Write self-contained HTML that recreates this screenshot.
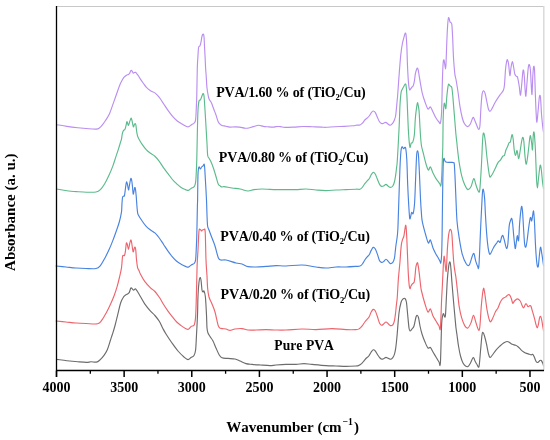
<!DOCTYPE html>
<html><head><meta charset="utf-8"><style>
html,body{margin:0;padding:0;background:#fff;}
svg{display:block;}
text{font-family:'Liberation Serif', 'Times New Roman', serif;font-weight:bold;fill:#000;font-kerning:none;}
</style></head><body>
<svg width="550" height="440" viewBox="0 0 550 440">
<rect width="550" height="440" fill="#fff"/>
<g fill="none" stroke-width="1.15" stroke-linejoin="round" stroke-linecap="round">
<path d="M56.50 124.60 C56.60 124.62 56.50 124.40 57.10 124.70 C58.83 125.00 63.45 125.88 66.90 126.40 C70.35 126.92 74.17 127.40 77.80 127.80 C81.43 128.20 85.60 128.58 88.70 128.80 C91.80 129.02 94.68 129.20 96.40 129.10 C98.12 129.00 98.10 128.78 99.00 128.20 C99.90 127.62 100.72 126.88 101.80 125.60 C102.88 124.32 104.22 122.48 105.50 120.50 C106.78 118.52 108.25 116.43 109.50 113.70 C110.75 110.97 111.85 107.30 113.00 104.10 C114.15 100.90 115.27 97.68 116.40 94.50 C117.53 91.32 118.85 87.37 119.80 85.00 C120.75 82.63 121.38 81.60 122.10 80.30 C122.82 79.00 123.38 78.05 124.10 77.20 C124.82 76.35 125.68 75.67 126.40 75.20 C127.12 74.73 127.85 74.73 128.40 74.40 C128.95 74.07 129.32 73.80 129.70 73.20 C130.08 72.60 130.43 71.27 130.70 70.80 C130.97 70.33 131.03 70.30 131.30 70.40 C131.57 70.50 131.97 70.93 132.30 71.40 C132.63 71.87 132.97 73.00 133.30 73.20 C133.63 73.40 133.92 72.73 134.30 72.60 C134.68 72.47 135.22 72.27 135.60 72.40 C135.98 72.53 136.13 72.85 136.60 73.40 C137.07 73.95 137.77 74.75 138.40 75.70 C139.03 76.65 139.55 77.80 140.40 79.10 C141.25 80.40 142.53 82.17 143.50 83.50 C144.47 84.83 145.03 85.90 146.20 87.10 C147.37 88.30 149.05 89.73 150.50 90.70 C151.95 91.67 153.43 91.80 154.90 92.90 C156.37 94.00 157.85 95.48 159.30 97.30 C160.75 99.12 162.15 101.62 163.60 103.80 C165.05 105.98 166.53 108.33 168.00 110.40 C169.47 112.47 170.95 114.52 172.40 116.20 C173.85 117.88 175.25 119.28 176.70 120.50 C178.15 121.72 179.63 122.58 181.10 123.50 C182.57 124.42 184.28 125.45 185.50 126.00 C186.72 126.55 187.43 126.98 188.40 126.80 C189.37 126.62 190.33 125.53 191.30 124.90 C192.27 124.27 193.48 123.85 194.20 123.00 C194.92 122.15 195.25 122.30 195.60 119.80 C195.95 117.30 196.10 112.12 196.30 108.00 C196.50 103.88 196.63 101.77 196.80 95.10 C196.97 88.43 197.10 74.63 197.30 68.00 C197.50 61.37 197.78 58.72 198.00 55.30 C198.22 51.88 198.27 49.10 198.60 47.50 C198.93 45.90 199.58 46.68 200.00 45.70 C200.42 44.72 200.80 43.03 201.10 41.60 C201.40 40.17 201.53 38.30 201.80 37.10 C202.07 35.90 202.40 34.85 202.70 34.40 C203.00 33.95 203.37 33.80 203.60 34.40 C203.83 35.00 203.95 36.03 204.10 38.00 C204.25 39.97 204.35 43.32 204.50 46.20 C204.65 49.08 204.82 51.67 205.00 55.30 C205.18 58.93 205.40 64.55 205.60 68.00 C205.80 71.45 205.97 72.67 206.20 76.00 C206.43 79.33 206.67 84.75 207.00 88.00 C207.33 91.25 207.83 93.63 208.20 95.50 C208.57 97.37 208.65 97.95 209.20 99.20 C209.75 100.45 210.75 101.37 211.50 103.00 C212.25 104.63 212.95 107.00 213.70 109.00 C214.45 111.00 215.25 112.88 216.00 115.00 C216.75 117.12 217.45 120.08 218.20 121.70 C218.95 123.32 219.87 124.07 220.50 124.70 C221.13 125.33 221.08 125.25 222.00 125.50 C222.92 125.75 224.73 125.93 226.00 126.20 C227.27 126.47 228.10 127.00 229.60 127.10 C231.10 127.20 233.33 126.80 235.00 126.80 C236.67 126.80 237.93 126.87 239.60 127.10 C241.27 127.33 243.48 128.05 245.00 128.20 C246.52 128.35 247.32 128.27 248.70 128.00 C250.08 127.73 251.63 127.05 253.30 126.60 C254.97 126.15 257.03 125.33 258.70 125.30 C260.37 125.27 261.78 126.15 263.30 126.40 C264.82 126.65 266.13 126.68 267.80 126.80 C269.47 126.92 271.93 127.13 273.30 127.10 C274.67 127.07 274.80 126.68 276.00 126.60 C277.20 126.52 279.00 126.47 280.50 126.60 C282.00 126.73 282.75 127.32 285.00 127.40 C287.25 127.48 291.00 127.25 294.00 127.10 C297.00 126.95 299.93 126.55 303.00 126.50 C306.07 126.45 309.32 126.70 312.40 126.80 C315.48 126.90 319.23 127.02 321.50 127.10 C323.77 127.18 323.75 127.37 326.00 127.30 C328.25 127.23 331.97 126.85 335.00 126.70 C338.03 126.55 341.15 126.55 344.20 126.40 C347.25 126.25 351.33 126.00 353.30 125.80 C355.27 125.60 354.88 125.33 356.00 125.20 C357.12 125.07 358.93 125.33 360.00 125.00 C361.07 124.67 361.60 124.03 362.40 123.20 C363.20 122.37 364.00 120.87 364.80 120.00 C365.60 119.13 366.47 118.67 367.20 118.00 C367.93 117.33 368.53 116.87 369.20 116.00 C369.87 115.13 370.53 113.63 371.20 112.80 C371.87 111.97 372.53 111.07 373.20 111.00 C373.87 110.93 374.53 111.43 375.20 112.40 C375.87 113.37 376.53 115.33 377.20 116.80 C377.87 118.27 378.47 120.07 379.20 121.20 C379.93 122.33 380.87 123.27 381.60 123.60 C382.33 123.93 382.90 123.40 383.60 123.20 C384.30 123.00 385.07 122.27 385.80 122.40 C386.53 122.53 387.23 123.53 388.00 124.00 C388.77 124.47 389.60 125.33 390.40 125.20 C391.20 125.07 392.13 124.07 392.80 123.20 C393.47 122.33 393.93 121.20 394.40 120.00 C394.87 118.80 395.27 117.87 395.60 116.00 C395.93 114.13 396.13 111.47 396.40 108.80 C396.67 106.13 397.00 102.13 397.20 100.00 C397.40 97.87 397.27 100.38 397.60 96.00 C397.93 91.62 398.67 80.60 399.20 73.70 C399.73 66.80 400.27 59.63 400.80 54.60 C401.33 49.57 401.87 46.42 402.40 43.50 C402.93 40.58 403.53 38.82 404.00 37.10 C404.47 35.38 404.87 33.60 405.20 33.20 C405.53 32.80 405.73 32.72 406.00 34.70 C406.27 36.68 406.55 39.92 406.80 45.10 C407.05 50.28 407.23 59.70 407.50 65.80 C407.77 71.90 408.07 77.73 408.40 81.70 C408.73 85.67 409.13 88.42 409.50 89.60 C409.87 90.78 410.20 89.20 410.60 88.80 C411.00 88.40 411.47 87.72 411.90 87.20 C412.33 86.68 412.80 86.62 413.20 85.70 C413.60 84.78 413.93 83.70 414.30 81.70 C414.67 79.70 415.00 75.82 415.40 73.70 C415.80 71.58 416.35 69.92 416.70 69.00 C417.05 68.08 417.23 67.95 417.50 68.20 C417.77 68.45 418.03 69.32 418.30 70.50 C418.57 71.68 418.70 72.90 419.10 75.30 C419.50 77.70 420.18 81.98 420.70 84.90 C421.22 87.82 421.48 89.95 422.20 92.80 C422.92 95.65 424.03 99.30 425.00 102.00 C425.97 104.70 427.10 108.17 428.00 109.00 C428.90 109.83 429.57 106.50 430.40 107.00 C431.23 107.50 432.07 110.17 433.00 112.00 C433.93 113.83 435.00 116.33 436.00 118.00 C437.00 119.67 438.27 121.17 439.00 122.00 C439.73 122.83 439.97 124.67 440.40 123.00 C440.83 121.33 441.27 119.17 441.60 112.00 C441.93 104.83 442.13 88.25 442.40 80.00 C442.67 71.75 442.93 65.83 443.20 62.50 C443.47 59.17 443.75 59.75 444.00 60.00 C444.25 60.25 444.45 62.50 444.70 64.00 C444.95 65.50 445.28 69.00 445.50 69.00 C445.72 69.00 445.78 68.50 446.00 64.00 C446.22 59.50 446.53 48.33 446.80 42.00 C447.07 35.67 447.33 30.00 447.60 26.00 C447.87 22.00 448.13 19.22 448.40 18.00 C448.67 16.78 448.93 18.03 449.20 18.70 C449.47 19.37 449.68 21.33 450.00 22.00 C450.32 22.67 450.78 22.20 451.10 22.70 C451.42 23.20 451.63 22.35 451.90 25.00 C452.17 27.65 452.43 33.15 452.70 38.60 C452.97 44.05 453.15 51.87 453.50 57.70 C453.85 63.53 454.40 70.05 454.80 73.60 C455.20 77.15 455.52 76.93 455.90 79.00 C456.28 81.07 456.70 83.50 457.10 86.00 C457.50 88.50 457.82 90.55 458.30 94.00 C458.78 97.45 459.33 102.70 460.00 106.70 C460.67 110.70 461.55 115.15 462.30 118.00 C463.05 120.85 463.65 122.37 464.50 123.80 C465.35 125.23 466.45 126.52 467.40 126.60 C468.35 126.68 469.27 125.82 470.20 124.30 C471.13 122.78 472.23 118.15 473.00 117.50 C473.77 116.85 474.13 118.98 474.80 120.40 C475.47 121.82 476.35 124.48 477.00 126.00 C477.65 127.52 478.22 129.50 478.70 129.50 C479.18 129.50 479.52 129.80 479.90 126.00 C480.28 122.20 480.63 112.00 481.00 106.70 C481.37 101.40 481.72 96.85 482.10 94.20 C482.48 91.55 482.82 90.98 483.30 90.80 C483.78 90.62 484.43 91.40 485.00 93.10 C485.57 94.80 486.13 98.35 486.70 101.00 C487.27 103.65 487.83 107.28 488.40 109.00 C488.97 110.72 489.43 111.48 490.10 111.30 C490.77 111.12 491.55 109.42 492.40 107.90 C493.25 106.38 493.93 104.38 495.20 102.20 C496.47 100.02 498.63 96.78 500.00 94.80 C501.37 92.82 502.65 92.02 503.40 90.30 C504.15 88.58 504.15 87.92 504.50 84.50 C504.85 81.08 505.15 73.62 505.50 69.80 C505.85 65.98 506.27 63.27 506.60 61.60 C506.93 59.93 507.17 59.37 507.50 59.80 C507.83 60.23 508.20 61.57 508.60 64.20 C509.00 66.83 509.50 75.05 509.90 75.60 C510.30 76.15 510.58 69.82 511.00 67.50 C511.42 65.18 511.95 61.70 512.40 61.70 C512.85 61.70 513.30 65.45 513.70 67.50 C514.10 69.55 514.33 72.50 514.80 74.00 C515.27 75.50 516.03 75.95 516.50 76.50 C516.97 77.05 517.15 75.72 517.60 77.30 C518.05 78.88 518.72 83.02 519.20 86.00 C519.68 88.98 520.08 95.45 520.50 95.20 C520.92 94.95 521.33 88.18 521.70 84.50 C522.07 80.82 522.40 75.50 522.70 73.10 C523.00 70.70 523.23 69.55 523.50 70.10 C523.77 70.65 524.03 73.17 524.30 76.40 C524.57 79.63 524.83 86.23 525.10 89.50 C525.37 92.77 525.57 97.37 525.90 96.00 C526.23 94.63 526.72 85.93 527.10 81.30 C527.48 76.67 527.85 71.00 528.20 68.20 C528.55 65.40 528.83 64.20 529.20 64.50 C529.57 64.80 530.07 66.67 530.40 70.00 C530.73 73.33 530.93 80.43 531.20 84.50 C531.47 88.57 531.73 95.75 532.00 94.40 C532.27 93.05 532.53 80.97 532.80 76.40 C533.07 71.83 533.32 68.15 533.60 67.00 C533.88 65.85 534.22 65.22 534.50 69.50 C534.78 73.78 535.03 85.55 535.30 92.70 C535.57 99.85 535.83 107.48 536.10 112.40 C536.37 117.32 536.57 122.48 536.90 122.20 C537.23 121.92 537.68 114.93 538.10 110.70 C538.52 106.47 539.00 98.98 539.40 96.80 C539.80 94.62 540.15 94.73 540.50 97.60 C540.85 100.47 541.15 109.35 541.50 114.00 C541.85 118.65 542.27 122.50 542.60 125.50 C542.93 128.50 543.35 130.92 543.50 132.00" stroke="#ba8ef0"/>
<path d="M56.50 189.00 C56.60 189.00 56.50 188.72 57.10 189.00 C58.83 189.28 63.45 190.25 66.90 190.70 C70.35 191.15 74.53 191.45 77.80 191.70 C81.07 191.95 83.47 192.15 86.50 192.20 C89.53 192.25 93.68 192.43 96.00 192.00 C98.32 191.57 98.95 190.97 100.40 189.60 C101.85 188.23 103.25 186.22 104.70 183.80 C106.15 181.38 107.77 178.00 109.10 175.10 C110.43 172.20 111.62 169.32 112.70 166.40 C113.78 163.48 114.63 160.52 115.60 157.60 C116.57 154.68 117.65 151.57 118.50 148.90 C119.35 146.23 120.20 143.25 120.70 141.60 C121.20 139.95 121.25 140.20 121.50 139.00 C121.75 137.80 121.92 135.73 122.20 134.40 C122.48 133.07 122.72 131.90 123.20 131.00 C123.68 130.10 124.62 129.98 125.10 129.00 C125.58 128.02 125.82 126.30 126.10 125.10 C126.38 123.90 126.58 122.23 126.80 121.80 C127.02 121.37 127.13 121.90 127.40 122.50 C127.67 123.10 128.02 125.52 128.40 125.40 C128.78 125.28 129.27 123.00 129.70 121.80 C130.13 120.60 130.62 118.42 131.00 118.20 C131.38 117.98 131.62 119.08 132.00 120.50 C132.38 121.92 132.92 125.98 133.30 126.70 C133.68 127.42 134.00 125.33 134.30 124.80 C134.60 124.27 134.83 123.45 135.10 123.50 C135.37 123.55 135.65 123.85 135.90 125.10 C136.15 126.35 136.32 129.15 136.60 131.00 C136.88 132.85 137.17 134.78 137.60 136.20 C138.03 137.62 138.50 138.23 139.20 139.50 C139.90 140.77 140.63 142.12 141.80 143.80 C142.97 145.48 144.75 148.02 146.20 149.60 C147.65 151.18 149.05 152.20 150.50 153.30 C151.95 154.40 153.43 154.87 154.90 156.20 C156.37 157.53 157.85 159.37 159.30 161.30 C160.75 163.23 162.15 165.75 163.60 167.80 C165.05 169.85 166.53 171.65 168.00 173.60 C169.47 175.55 170.95 177.80 172.40 179.50 C173.85 181.20 175.25 182.47 176.70 183.80 C178.15 185.13 179.63 186.53 181.10 187.50 C182.57 188.47 184.28 189.12 185.50 189.60 C186.72 190.08 187.43 190.63 188.40 190.40 C189.37 190.17 190.33 188.82 191.30 188.20 C192.27 187.58 193.48 187.67 194.20 186.70 C194.92 185.73 195.25 184.85 195.60 182.40 C195.95 179.95 196.10 175.88 196.30 172.00 C196.50 168.12 196.62 166.10 196.80 159.10 C196.98 152.10 197.20 138.18 197.40 130.00 C197.60 121.82 197.73 114.83 198.00 110.00 C198.27 105.17 198.60 102.67 199.00 101.00 C199.40 99.33 199.97 100.67 200.40 100.00 C200.83 99.33 201.17 98.07 201.60 97.00 C202.03 95.93 202.60 93.77 203.00 93.60 C203.40 93.43 203.67 93.27 204.00 96.00 C204.33 98.73 204.63 104.33 205.00 110.00 C205.37 115.67 205.87 124.42 206.20 130.00 C206.53 135.58 206.75 139.25 207.00 143.50 C207.25 147.75 207.33 153.00 207.70 155.50 C208.07 158.00 208.57 157.25 209.20 158.50 C209.83 159.75 210.75 161.25 211.50 163.00 C212.25 164.75 212.95 166.75 213.70 169.00 C214.45 171.25 215.25 174.00 216.00 176.50 C216.75 179.00 217.45 182.38 218.20 184.00 C218.95 185.62 219.87 185.70 220.50 186.20 C221.13 186.70 221.42 186.93 222.00 187.00 C222.58 187.07 222.33 186.43 224.00 186.60 C225.67 186.77 229.33 187.60 232.00 188.00 C234.67 188.40 237.33 188.50 240.00 189.00 C242.67 189.50 245.67 190.90 248.00 191.00 C250.33 191.10 251.67 189.93 254.00 189.60 C256.33 189.27 258.33 189.00 262.00 189.00 C265.67 189.00 272.00 189.50 276.00 189.60 C280.00 189.70 282.67 189.60 286.00 189.60 C289.33 189.60 292.67 189.70 296.00 189.60 C299.33 189.50 302.67 188.93 306.00 189.00 C309.33 189.07 312.67 189.73 316.00 190.00 C319.33 190.27 322.67 190.60 326.00 190.60 C329.33 190.60 332.67 190.17 336.00 190.00 C339.33 189.83 342.67 189.73 346.00 189.60 C349.33 189.47 353.67 189.27 356.00 189.20 C358.33 189.13 358.93 189.53 360.00 189.20 C361.07 188.87 361.60 188.13 362.40 187.20 C363.20 186.27 364.00 184.67 364.80 183.60 C365.60 182.53 366.47 181.60 367.20 180.80 C367.93 180.00 368.53 179.80 369.20 178.80 C369.87 177.80 370.53 175.87 371.20 174.80 C371.87 173.73 372.53 172.53 373.20 172.40 C373.87 172.27 374.53 172.93 375.20 174.00 C375.87 175.07 376.47 177.07 377.20 178.80 C377.93 180.53 378.87 183.13 379.60 184.40 C380.33 185.67 380.93 186.13 381.60 186.40 C382.27 186.67 382.87 186.33 383.60 186.00 C384.33 185.67 385.27 184.40 386.00 184.40 C386.73 184.40 387.27 185.50 388.00 186.00 C388.73 186.50 389.60 187.40 390.40 187.40 C391.20 187.40 392.13 186.90 392.80 186.00 C393.47 185.10 393.93 183.73 394.40 182.00 C394.87 180.27 395.27 177.73 395.60 175.60 C395.93 173.47 396.13 171.47 396.40 169.20 C396.67 166.93 396.90 166.03 397.20 162.00 C397.50 157.97 397.87 151.05 398.20 145.00 C398.53 138.95 398.90 132.37 399.20 125.70 C399.50 119.03 399.68 110.57 400.00 105.00 C400.32 99.43 400.70 94.95 401.10 92.30 C401.50 89.65 401.92 90.15 402.40 89.10 C402.88 88.05 403.53 86.85 404.00 86.00 C404.47 85.15 404.87 84.13 405.20 84.00 C405.53 83.87 405.73 83.55 406.00 85.20 C406.27 86.85 406.55 89.80 406.80 93.90 C407.05 98.00 407.23 103.70 407.50 109.80 C407.77 115.90 408.07 124.67 408.40 130.50 C408.73 136.33 409.18 142.02 409.50 144.80 C409.82 147.58 410.03 147.47 410.30 147.20 C410.57 146.93 410.70 144.00 411.10 143.20 C411.50 142.40 412.17 143.72 412.70 142.40 C413.23 141.08 413.85 139.40 414.30 135.30 C414.75 131.20 415.00 122.58 415.40 117.80 C415.80 113.02 416.35 109.12 416.70 106.60 C417.05 104.08 417.23 102.83 417.50 102.70 C417.77 102.57 418.03 104.35 418.30 105.80 C418.57 107.25 418.83 108.08 419.10 111.40 C419.37 114.72 419.63 121.18 419.90 125.70 C420.17 130.22 420.43 135.12 420.70 138.50 C420.97 141.88 421.12 143.75 421.50 146.00 C421.88 148.25 422.25 149.00 423.00 152.00 C423.75 155.00 425.10 161.00 426.00 164.00 C426.90 167.00 427.67 169.50 428.40 170.00 C429.13 170.50 429.63 166.50 430.40 167.00 C431.17 167.50 432.07 171.07 433.00 173.00 C433.93 174.93 435.10 177.13 436.00 178.60 C436.90 180.07 437.73 180.87 438.40 181.80 C439.07 182.73 439.60 183.53 440.00 184.20 C440.40 184.87 440.53 186.73 440.80 185.80 C441.07 184.87 441.33 183.23 441.60 178.60 C441.87 173.97 442.20 163.43 442.40 158.00 C442.60 152.57 442.67 152.78 442.80 146.00 C442.93 139.22 443.00 124.20 443.20 117.30 C443.40 110.40 443.75 106.85 444.00 104.60 C444.25 102.35 444.45 103.27 444.70 103.80 C444.95 104.33 445.28 107.13 445.50 107.80 C445.72 108.47 445.78 109.65 446.00 107.80 C446.22 105.95 446.48 100.15 446.80 96.70 C447.12 93.25 447.58 89.22 447.90 87.10 C448.22 84.98 448.35 84.20 448.70 84.00 C449.05 83.80 449.60 85.52 450.00 85.90 C450.40 86.28 450.78 85.95 451.10 86.30 C451.42 86.65 451.63 86.55 451.90 88.00 C452.17 89.45 452.43 92.23 452.70 95.00 C452.97 97.77 453.15 100.35 453.50 104.60 C453.85 108.85 454.40 115.60 454.80 120.50 C455.20 125.40 455.55 130.25 455.90 134.00 C456.25 137.75 456.62 140.33 456.90 143.00 C457.18 145.67 457.22 146.73 457.60 150.00 C457.98 153.27 458.53 158.38 459.20 162.60 C459.87 166.82 460.68 171.60 461.60 175.30 C462.52 179.00 463.65 182.42 464.70 184.80 C465.75 187.18 466.83 189.33 467.90 189.60 C468.97 189.87 470.12 188.25 471.10 186.40 C472.08 184.55 473.00 178.77 473.80 178.50 C474.60 178.23 475.15 182.68 475.90 184.80 C476.65 186.92 477.65 190.40 478.30 191.20 C478.95 192.00 479.28 193.85 479.80 189.60 C480.32 185.35 480.92 174.18 481.40 165.70 C481.88 157.22 482.30 144.12 482.70 138.70 C483.10 133.28 483.35 132.67 483.80 133.20 C484.25 133.73 484.87 137.80 485.40 141.90 C485.93 146.00 486.33 152.23 487.00 157.80 C487.67 163.37 488.73 172.25 489.40 175.30 C490.07 178.35 490.20 176.90 491.00 176.10 C491.80 175.30 493.03 172.75 494.20 170.50 C495.37 168.25 496.97 164.32 498.00 162.60 C499.03 160.88 499.60 161.27 500.40 160.20 C501.20 159.13 502.13 157.00 502.80 156.20 C503.47 155.40 503.87 156.47 504.40 155.40 C504.93 154.33 505.48 151.25 506.00 149.80 C506.52 148.35 506.98 147.88 507.50 146.70 C508.02 145.52 508.62 143.50 509.10 142.70 C509.58 141.90 509.92 143.23 510.40 141.90 C510.88 140.57 511.55 135.23 512.00 134.70 C512.45 134.17 512.73 136.18 513.10 138.70 C513.47 141.22 513.80 147.02 514.20 149.80 C514.60 152.58 515.02 155.27 515.50 155.40 C515.98 155.53 516.57 150.07 517.10 150.60 C517.63 151.13 518.17 158.73 518.70 158.60 C519.23 158.47 519.78 152.85 520.30 149.80 C520.82 146.75 521.35 142.37 521.80 140.30 C522.25 138.23 522.65 137.13 523.00 137.40 C523.35 137.67 523.57 138.77 523.90 141.90 C524.23 145.03 524.60 152.48 525.00 156.20 C525.40 159.92 525.82 164.47 526.30 164.20 C526.78 163.93 527.32 158.98 527.90 154.60 C528.48 150.22 529.35 140.95 529.80 137.90 C530.25 134.85 530.28 135.37 530.60 136.30 C530.92 137.23 531.38 141.25 531.70 143.50 C532.02 145.75 532.23 151.27 532.50 149.80 C532.77 148.33 533.02 137.47 533.30 134.70 C533.58 131.93 533.85 130.68 534.20 133.20 C534.55 135.72 535.02 142.25 535.40 149.80 C535.78 157.35 536.17 172.13 536.50 178.50 C536.83 184.87 537.07 188.00 537.40 188.00 C537.73 188.00 538.05 182.22 538.50 178.50 C538.95 174.78 539.65 167.30 540.10 165.70 C540.55 164.10 540.80 166.25 541.20 168.90 C541.60 171.55 542.10 178.25 542.50 181.60 C542.90 184.95 543.42 187.77 543.60 189.00" stroke="#5cbb8c"/>
<path d="M56.00 266.00 C57.67 266.17 62.67 266.67 66.00 267.00 C69.33 267.33 72.67 267.75 76.00 268.00 C79.33 268.25 82.67 268.42 86.00 268.50 C89.33 268.58 93.60 268.98 96.00 268.50 C98.40 268.02 98.95 267.28 100.40 265.60 C101.85 263.92 103.25 261.07 104.70 258.40 C106.15 255.73 107.77 252.52 109.10 249.60 C110.43 246.68 111.48 244.05 112.70 240.90 C113.92 237.75 115.30 233.85 116.40 230.70 C117.50 227.55 118.45 225.15 119.30 222.00 C120.15 218.85 121.07 214.63 121.50 211.80 C121.90 208.97 121.73 207.38 121.90 205.00 C122.07 202.62 122.23 198.97 122.50 197.50 C122.77 196.03 123.17 196.53 123.50 196.20 C123.83 195.87 124.17 196.87 124.50 195.50 C124.83 194.13 125.17 190.25 125.50 188.00 C125.83 185.75 126.17 182.58 126.50 182.00 C126.83 181.42 127.17 183.17 127.50 184.50 C127.83 185.83 128.17 189.92 128.50 190.00 C128.83 190.08 129.12 186.92 129.50 185.00 C129.88 183.08 130.42 179.17 130.80 178.50 C131.18 177.83 131.52 179.58 131.80 181.00 C132.08 182.42 132.27 184.83 132.50 187.00 C132.73 189.17 132.95 193.33 133.20 194.00 C133.45 194.67 133.73 192.08 134.00 191.00 C134.27 189.92 134.55 187.75 134.80 187.50 C135.05 187.25 135.27 188.08 135.50 189.50 C135.73 190.92 135.95 193.08 136.20 196.00 C136.45 198.92 136.78 204.37 137.00 207.00 C137.22 209.63 137.30 210.52 137.50 211.80 C137.70 213.08 137.50 213.25 138.20 214.70 C138.92 216.15 140.47 218.55 141.80 220.50 C143.13 222.45 144.75 224.82 146.20 226.40 C147.65 227.98 149.05 228.92 150.50 230.00 C151.95 231.08 153.43 231.57 154.90 232.90 C156.37 234.23 157.85 236.07 159.30 238.00 C160.75 239.93 162.15 242.32 163.60 244.50 C165.05 246.68 166.53 249.03 168.00 251.10 C169.47 253.17 170.95 255.20 172.40 256.90 C173.85 258.60 175.25 260.08 176.70 261.30 C178.15 262.52 179.63 263.35 181.10 264.20 C182.57 265.05 184.28 265.92 185.50 266.40 C186.72 266.88 187.43 267.35 188.40 267.10 C189.37 266.85 190.33 265.50 191.30 264.90 C192.27 264.30 193.48 264.35 194.20 263.50 C194.92 262.65 195.25 262.38 195.60 259.80 C195.95 257.22 196.10 252.12 196.30 248.00 C196.50 243.88 196.62 242.10 196.80 235.10 C196.98 228.10 197.27 211.85 197.40 206.00 C197.53 200.15 197.50 205.33 197.60 200.00 C197.70 194.67 197.77 179.50 198.00 174.00 C198.23 168.50 198.60 167.83 199.00 167.00 C199.40 166.17 199.97 169.00 200.40 169.00 C200.83 169.00 201.17 167.50 201.60 167.00 C202.03 166.50 202.53 166.33 203.00 166.00 C203.47 165.67 204.00 162.67 204.40 165.00 C204.80 167.33 205.05 174.17 205.40 180.00 C205.75 185.83 206.23 194.17 206.50 200.00 C206.77 205.83 206.82 210.67 207.00 215.00 C207.18 219.33 207.27 223.50 207.60 226.00 C207.93 228.50 208.27 228.00 209.00 230.00 C209.73 232.00 211.00 235.33 212.00 238.00 C213.00 240.67 213.93 242.67 215.00 246.00 C216.07 249.33 217.40 255.67 218.40 258.00 C219.40 260.33 219.73 259.67 221.00 260.00 C222.27 260.33 223.50 259.50 226.00 260.00 C228.50 260.50 233.33 262.33 236.00 263.00 C238.67 263.67 240.00 263.40 242.00 264.00 C244.00 264.60 245.67 266.10 248.00 266.60 C250.33 267.10 253.00 267.03 256.00 267.00 C259.00 266.97 262.67 266.63 266.00 266.40 C269.33 266.17 272.67 265.67 276.00 265.60 C279.33 265.53 281.67 266.10 286.00 266.00 C290.33 265.90 297.00 264.83 302.00 265.00 C307.00 265.17 312.00 266.50 316.00 267.00 C320.00 267.50 322.67 268.00 326.00 268.00 C329.33 268.00 332.67 267.17 336.00 267.00 C339.33 266.83 342.67 267.10 346.00 267.00 C349.33 266.90 353.67 266.57 356.00 266.40 C358.33 266.23 358.93 266.40 360.00 266.00 C361.07 265.60 361.60 265.00 362.40 264.00 C363.20 263.00 364.00 261.20 364.80 260.00 C365.60 258.80 366.47 257.67 367.20 256.80 C367.93 255.93 368.53 255.87 369.20 254.80 C369.87 253.73 370.53 251.63 371.20 250.40 C371.87 249.17 372.53 247.67 373.20 247.40 C373.87 247.13 374.53 247.77 375.20 248.80 C375.87 249.83 376.47 251.60 377.20 253.60 C377.93 255.60 378.87 259.33 379.60 260.80 C380.33 262.27 380.93 262.27 381.60 262.40 C382.27 262.53 382.87 262.13 383.60 261.60 C384.33 261.07 385.20 259.20 386.00 259.20 C386.80 259.20 387.67 260.87 388.40 261.60 C389.13 262.33 389.67 263.47 390.40 263.60 C391.13 263.73 392.13 263.27 392.80 262.40 C393.47 261.53 394.00 260.13 394.40 258.40 C394.80 256.67 394.93 254.23 395.20 252.00 C395.47 249.77 395.72 247.17 396.00 245.00 C396.28 242.83 396.65 240.83 396.90 239.00 C397.15 237.17 397.32 236.17 397.50 234.00 C397.68 231.83 397.77 231.88 398.00 226.00 C398.23 220.12 398.58 208.13 398.90 198.70 C399.22 189.27 399.57 177.23 399.90 169.40 C400.23 161.57 400.57 155.45 400.90 151.70 C401.23 147.95 401.57 147.55 401.90 146.90 C402.23 146.25 402.58 147.48 402.90 147.80 C403.22 148.12 403.48 148.87 403.80 148.80 C404.12 148.73 404.47 147.40 404.80 147.40 C405.13 147.40 405.47 146.77 405.80 148.80 C406.13 150.83 406.48 153.57 406.80 159.60 C407.12 165.63 407.38 177.50 407.70 185.00 C408.02 192.50 408.37 199.05 408.70 204.60 C409.03 210.15 409.37 216.33 409.70 218.30 C410.03 220.27 410.37 217.38 410.70 216.40 C411.03 215.42 411.28 212.90 411.70 212.40 C412.12 211.90 412.72 215.02 413.20 213.40 C413.68 211.78 414.20 208.40 414.60 202.70 C415.00 197.00 415.27 187.03 415.60 179.20 C415.93 171.37 416.28 160.43 416.60 155.70 C416.92 150.97 417.18 150.80 417.50 150.80 C417.82 150.80 418.17 151.63 418.50 155.70 C418.83 159.77 419.17 168.03 419.50 175.20 C419.83 182.37 420.17 192.17 420.50 198.70 C420.83 205.23 421.18 210.48 421.50 214.40 C421.82 218.32 421.65 218.60 422.40 222.20 C423.15 225.80 425.00 232.53 426.00 236.00 C427.00 239.47 427.67 242.33 428.40 243.00 C429.13 243.67 429.63 239.17 430.40 240.00 C431.17 240.83 432.07 245.63 433.00 248.00 C433.93 250.37 435.10 252.50 436.00 254.20 C436.90 255.90 437.73 257.02 438.40 258.20 C439.07 259.38 439.60 260.52 440.00 261.30 C440.40 262.08 440.53 263.95 440.80 262.90 C441.07 261.85 441.38 259.48 441.60 255.00 C441.82 250.52 441.97 243.50 442.10 236.00 C442.23 228.50 442.28 219.03 442.40 210.00 C442.52 200.97 442.65 189.68 442.80 181.80 C442.95 173.92 443.10 166.62 443.30 162.70 C443.50 158.78 443.77 158.70 444.00 158.30 C444.23 157.90 444.38 159.70 444.70 160.30 C445.02 160.90 445.23 161.55 445.90 161.90 C446.57 162.25 447.70 162.32 448.70 162.40 C449.70 162.48 451.10 162.35 451.90 162.40 C452.70 162.45 453.10 162.38 453.50 162.70 C453.90 163.02 454.03 161.65 454.30 164.30 C454.57 166.95 454.83 173.03 455.10 178.60 C455.37 184.17 455.58 190.63 455.90 197.70 C456.22 204.77 456.47 214.40 457.00 221.00 C457.53 227.60 458.25 231.87 459.10 237.30 C459.95 242.73 460.92 249.18 462.10 253.60 C463.28 258.02 465.00 261.92 466.20 263.80 C467.40 265.68 468.27 266.25 469.30 264.90 C470.33 263.55 471.62 257.58 472.40 255.70 C473.18 253.82 473.50 252.92 474.00 253.60 C474.50 254.28 474.82 257.75 475.40 259.80 C475.98 261.85 476.92 264.88 477.50 265.90 C478.08 266.92 478.40 271.70 478.90 265.90 C479.40 260.10 479.95 242.68 480.50 231.10 C481.05 219.52 481.75 203.38 482.20 196.40 C482.65 189.42 482.80 188.87 483.20 189.20 C483.60 189.53 484.23 194.27 484.60 198.40 C484.97 202.53 485.05 208.05 485.40 214.00 C485.75 219.95 486.25 228.48 486.70 234.10 C487.15 239.72 487.63 244.40 488.10 247.70 C488.57 251.00 489.05 252.98 489.50 253.90 C489.95 254.82 490.13 254.23 490.80 253.20 C491.47 252.17 492.58 249.30 493.50 247.70 C494.42 246.10 495.50 244.73 496.30 243.60 C497.10 242.47 497.67 241.12 498.30 240.90 C498.93 240.68 499.53 242.98 500.10 242.30 C500.67 241.62 501.25 237.93 501.70 236.80 C502.15 235.67 502.38 235.03 502.80 235.50 C503.22 235.97 503.70 237.78 504.20 239.60 C504.70 241.42 505.35 244.93 505.80 246.40 C506.25 247.87 506.55 248.85 506.90 248.40 C507.25 247.95 507.52 247.45 507.90 243.70 C508.28 239.95 508.75 229.77 509.20 225.90 C509.65 222.03 510.18 221.75 510.60 220.50 C511.02 219.25 511.37 217.95 511.70 218.40 C512.03 218.85 512.27 220.35 512.60 223.20 C512.93 226.05 513.35 231.87 513.70 235.50 C514.05 239.13 514.42 242.85 514.70 245.00 C514.98 247.15 515.10 249.08 515.40 248.40 C515.70 247.72 516.18 243.03 516.50 240.90 C516.82 238.77 516.95 235.67 517.30 235.60 C517.65 235.53 518.20 242.68 518.60 240.50 C519.00 238.32 519.23 228.08 519.70 222.50 C520.17 216.92 520.93 208.90 521.40 207.00 C521.87 205.10 522.15 207.68 522.50 211.10 C522.85 214.52 523.15 222.05 523.50 227.50 C523.85 232.95 524.22 240.53 524.60 243.80 C524.98 247.07 525.38 247.65 525.80 247.10 C526.22 246.55 526.62 243.77 527.10 240.50 C527.58 237.23 528.15 231.32 528.70 227.50 C529.25 223.68 529.90 218.70 530.40 217.60 C530.90 216.50 531.30 221.43 531.70 220.90 C532.10 220.37 532.48 216.03 532.80 214.40 C533.12 212.77 533.32 209.75 533.60 211.10 C533.88 212.45 534.17 216.50 534.50 222.50 C534.83 228.50 535.20 240.27 535.60 247.10 C536.00 253.93 536.47 260.23 536.90 263.50 C537.33 266.77 537.78 268.07 538.20 266.70 C538.62 265.33 539.02 258.57 539.40 255.30 C539.78 252.03 540.10 247.38 540.50 247.10 C540.90 246.82 541.28 250.45 541.80 253.60 C542.32 256.75 543.30 263.93 543.60 266.00" stroke="#4883e0"/>
<path d="M56.00 321.00 C57.67 321.17 62.67 321.67 66.00 322.00 C69.33 322.33 72.67 322.75 76.00 323.00 C79.33 323.25 82.42 323.37 86.00 323.50 C89.58 323.63 94.87 324.35 97.50 323.80 C100.13 323.25 100.35 322.02 101.80 320.20 C103.25 318.38 104.75 315.57 106.20 312.90 C107.65 310.23 109.17 307.10 110.50 304.20 C111.83 301.30 113.10 298.42 114.20 295.50 C115.30 292.58 116.25 289.62 117.10 286.70 C117.95 283.78 118.57 281.15 119.30 278.00 C120.03 274.85 120.95 271.42 121.50 267.80 C122.05 264.18 122.10 258.37 122.60 256.30 C123.10 254.23 124.03 256.23 124.50 255.40 C124.97 254.57 125.10 253.28 125.40 251.30 C125.70 249.32 126.00 244.72 126.30 243.50 C126.60 242.28 126.83 243.00 127.20 244.00 C127.57 245.00 128.10 249.50 128.50 249.50 C128.90 249.50 129.22 245.60 129.60 244.00 C129.98 242.40 130.45 240.07 130.80 239.90 C131.15 239.73 131.32 241.03 131.70 243.00 C132.08 244.97 132.68 250.78 133.10 251.70 C133.52 252.62 133.87 249.25 134.20 248.50 C134.53 247.75 134.83 246.88 135.10 247.20 C135.37 247.52 135.57 248.35 135.80 250.40 C136.03 252.45 136.20 256.63 136.50 259.50 C136.80 262.37 137.18 265.77 137.60 267.60 C138.02 269.43 138.53 269.43 139.00 270.50 C139.47 271.57 139.45 272.20 140.40 274.00 C141.35 275.80 143.02 279.00 144.70 281.30 C146.38 283.60 148.80 286.10 150.50 287.80 C152.20 289.50 153.43 289.92 154.90 291.50 C156.37 293.08 157.85 295.13 159.30 297.30 C160.75 299.47 162.15 302.20 163.60 304.50 C165.05 306.80 166.53 309.03 168.00 311.10 C169.47 313.17 170.95 315.08 172.40 316.90 C173.85 318.72 175.25 320.55 176.70 322.00 C178.15 323.45 179.63 324.52 181.10 325.60 C182.57 326.68 184.28 327.88 185.50 328.50 C186.72 329.12 187.43 329.65 188.40 329.30 C189.37 328.95 190.33 327.13 191.30 326.40 C192.27 325.67 193.48 326.48 194.20 324.90 C194.92 323.32 195.23 321.87 195.60 316.90 C195.97 311.93 196.15 303.58 196.40 295.10 C196.65 286.62 196.83 273.52 197.10 266.00 C197.37 258.48 197.68 255.83 198.00 250.00 C198.32 244.17 198.60 234.40 199.00 231.00 C199.40 227.60 200.00 229.60 200.40 229.60 C200.80 229.60 201.07 230.93 201.40 231.00 C201.73 231.07 201.97 230.23 202.40 230.00 C202.83 229.77 203.53 229.27 204.00 229.60 C204.47 229.93 204.87 226.93 205.20 232.00 C205.53 237.07 205.70 252.67 206.00 260.00 C206.30 267.33 206.73 271.33 207.00 276.00 C207.27 280.67 207.27 284.50 207.60 288.00 C207.93 291.50 208.27 294.33 209.00 297.00 C209.73 299.67 211.00 301.50 212.00 304.00 C213.00 306.50 213.93 308.33 215.00 312.00 C216.07 315.67 217.40 323.27 218.40 326.00 C219.40 328.73 219.73 327.90 221.00 328.40 C222.27 328.90 224.50 328.67 226.00 329.00 C227.50 329.33 228.50 330.40 230.00 330.40 C231.50 330.40 233.00 329.30 235.00 329.00 C237.00 328.70 239.83 328.43 242.00 328.60 C244.17 328.77 245.67 329.77 248.00 330.00 C250.33 330.23 253.00 330.07 256.00 330.00 C259.00 329.93 262.67 329.60 266.00 329.60 C269.33 329.60 272.67 329.93 276.00 330.00 C279.33 330.07 281.67 330.17 286.00 330.00 C290.33 329.83 297.00 329.07 302.00 329.00 C307.00 328.93 311.00 329.67 316.00 329.60 C321.00 329.53 327.00 328.60 332.00 328.60 C337.00 328.60 342.00 329.43 346.00 329.60 C350.00 329.77 353.80 329.73 356.00 329.60 C358.20 329.47 358.13 329.47 359.20 328.80 C360.27 328.13 361.47 326.73 362.40 325.60 C363.33 324.47 364.00 323.07 364.80 322.00 C365.60 320.93 366.47 320.07 367.20 319.20 C367.93 318.33 368.53 318.00 369.20 316.80 C369.87 315.60 370.53 313.23 371.20 312.00 C371.87 310.77 372.53 309.60 373.20 309.40 C373.87 309.20 374.53 309.70 375.20 310.80 C375.87 311.90 376.47 313.93 377.20 316.00 C377.93 318.07 378.87 321.67 379.60 323.20 C380.33 324.73 380.93 325.07 381.60 325.20 C382.27 325.33 382.87 324.53 383.60 324.00 C384.33 323.47 385.20 322.00 386.00 322.00 C386.80 322.00 387.67 323.40 388.40 324.00 C389.13 324.60 389.67 325.47 390.40 325.60 C391.13 325.73 392.13 325.60 392.80 324.80 C393.47 324.00 393.93 322.80 394.40 320.80 C394.87 318.80 395.27 315.47 395.60 312.80 C395.93 310.13 396.13 307.27 396.40 304.80 C396.67 302.33 396.88 302.13 397.20 298.00 C397.52 293.87 397.97 284.67 398.30 280.00 C398.63 275.33 398.92 273.08 399.20 270.00 C399.48 266.92 399.75 264.58 400.00 261.50 C400.25 258.42 400.45 254.47 400.70 251.50 C400.95 248.53 401.17 245.77 401.50 243.70 C401.83 241.63 402.32 240.30 402.70 239.10 C403.08 237.90 403.48 237.77 403.80 236.50 C404.12 235.23 404.32 233.32 404.60 231.50 C404.88 229.68 405.25 226.30 405.50 225.60 C405.75 224.90 405.88 225.20 406.10 227.30 C406.32 229.40 406.57 233.57 406.80 238.20 C407.03 242.83 407.25 249.20 407.50 255.10 C407.75 261.00 408.02 268.55 408.30 273.60 C408.58 278.65 408.92 282.87 409.20 285.40 C409.48 287.93 409.72 288.65 410.00 288.80 C410.28 288.95 410.48 287.15 410.90 286.30 C411.32 285.45 411.95 284.42 412.50 283.70 C413.05 282.98 413.77 283.40 414.20 282.00 C414.63 280.60 414.82 277.82 415.10 275.30 C415.38 272.78 415.53 269.00 415.90 266.90 C416.27 264.80 416.93 262.98 417.30 262.70 C417.67 262.42 417.77 263.38 418.10 265.20 C418.43 267.02 418.88 270.23 419.30 273.60 C419.72 276.97 420.23 282.50 420.60 285.40 C420.97 288.30 420.77 287.90 421.50 291.00 C422.23 294.10 423.92 300.50 425.00 304.00 C426.08 307.50 427.10 311.17 428.00 312.00 C428.90 312.83 429.57 308.33 430.40 309.00 C431.23 309.67 432.07 314.00 433.00 316.00 C433.93 318.00 435.00 319.33 436.00 321.00 C437.00 322.67 438.27 324.83 439.00 326.00 C439.73 327.17 439.97 332.33 440.40 328.00 C440.83 323.67 441.27 307.17 441.60 300.00 C441.93 292.83 442.13 290.38 442.40 285.00 C442.67 279.62 442.93 272.43 443.20 267.70 C443.47 262.97 443.75 257.93 444.00 256.60 C444.25 255.27 444.38 257.32 444.70 259.70 C445.02 262.08 445.60 269.57 445.90 270.90 C446.20 272.23 446.25 271.42 446.50 267.70 C446.75 263.98 447.03 254.17 447.40 248.60 C447.77 243.03 448.27 237.48 448.70 234.30 C449.13 231.12 449.60 230.17 450.00 229.50 C450.40 228.83 450.78 229.50 451.10 230.30 C451.42 231.10 451.63 231.52 451.90 234.30 C452.17 237.08 452.38 242.23 452.70 247.00 C453.02 251.77 453.40 258.65 453.80 262.90 C454.20 267.15 454.73 269.98 455.10 272.50 C455.47 275.02 455.58 274.70 456.00 278.00 C456.42 281.30 457.07 287.53 457.60 292.30 C458.13 297.07 458.53 302.37 459.20 306.60 C459.87 310.83 460.68 314.53 461.60 317.70 C462.52 320.87 463.65 323.88 464.70 325.60 C465.75 327.32 466.83 328.52 467.90 328.00 C468.97 327.48 470.17 324.62 471.10 322.50 C472.03 320.38 472.70 315.30 473.50 315.30 C474.30 315.30 475.10 320.12 475.90 322.50 C476.70 324.88 477.65 328.82 478.30 329.60 C478.95 330.38 479.28 331.30 479.80 327.20 C480.32 323.10 480.82 311.35 481.40 305.00 C481.98 298.65 482.77 291.22 483.30 289.10 C483.83 286.98 483.98 288.87 484.60 292.30 C485.22 295.73 486.15 304.93 487.00 309.70 C487.85 314.47 488.90 319.17 489.70 320.90 C490.50 322.63 490.80 321.70 491.80 320.10 C492.80 318.50 494.67 313.33 495.70 311.30 C496.73 309.27 497.23 309.42 498.00 307.90 C498.77 306.38 499.55 303.72 500.30 302.20 C501.05 300.68 501.65 299.65 502.50 298.80 C503.35 297.95 504.45 297.77 505.40 297.10 C506.35 296.43 507.45 295.08 508.20 294.80 C508.95 294.52 509.37 294.73 509.90 295.40 C510.43 296.07 510.92 297.48 511.40 298.80 C511.88 300.12 512.28 302.93 512.80 303.30 C513.32 303.67 513.75 301.75 514.50 301.00 C515.25 300.25 516.35 298.80 517.30 298.80 C518.25 298.80 519.43 299.97 520.20 301.00 C520.97 302.03 521.33 303.85 521.90 305.00 C522.47 306.15 523.03 307.98 523.60 307.90 C524.17 307.82 524.83 305.17 525.30 304.50 C525.77 303.83 525.93 303.53 526.40 303.90 C526.87 304.27 527.53 306.42 528.10 306.70 C528.67 306.98 529.32 305.68 529.80 305.60 C530.28 305.52 530.62 305.45 531.00 306.20 C531.38 306.95 531.53 308.12 532.10 310.10 C532.67 312.08 533.73 315.63 534.40 318.10 C535.07 320.57 535.63 323.28 536.10 324.90 C536.57 326.52 536.83 327.80 537.20 327.80 C537.57 327.80 537.92 326.52 538.30 324.90 C538.68 323.28 539.12 319.52 539.50 318.10 C539.88 316.68 540.22 316.02 540.60 316.40 C540.98 316.78 541.42 318.60 541.80 320.40 C542.18 322.20 542.60 325.43 542.90 327.20 C543.20 328.97 543.48 330.37 543.60 331.00" stroke="#ee646d"/>
<path d="M56.50 359.40 C56.60 359.40 56.50 359.18 57.10 359.40 C58.83 359.62 63.45 360.30 66.90 360.70 C70.35 361.10 74.53 361.52 77.80 361.80 C81.07 362.08 84.32 362.40 86.50 362.40 C88.68 362.40 89.27 361.85 90.90 361.80 C92.53 361.75 94.85 362.37 96.30 362.10 C97.75 361.83 98.32 361.33 99.60 360.20 C100.88 359.07 102.72 357.03 104.00 355.30 C105.28 353.57 106.22 352.35 107.30 349.80 C108.38 347.25 109.63 342.63 110.50 340.00 C111.37 337.37 111.77 336.33 112.50 334.00 C113.23 331.67 114.02 329.27 114.90 326.00 C115.78 322.73 116.83 318.28 117.80 314.40 C118.77 310.52 119.73 305.62 120.70 302.70 C121.67 299.78 122.72 298.23 123.60 296.90 C124.48 295.57 125.33 295.18 126.00 294.70 C126.67 294.22 127.05 294.38 127.60 294.00 C128.15 293.62 128.75 293.40 129.30 292.40 C129.85 291.40 130.37 288.55 130.90 288.00 C131.43 287.45 132.05 288.73 132.50 289.10 C132.95 289.47 133.13 290.25 133.60 290.20 C134.07 290.15 134.90 288.95 135.30 288.80 C135.70 288.65 135.63 288.85 136.00 289.30 C136.37 289.75 136.77 290.30 137.50 291.50 C138.23 292.70 139.20 294.45 140.40 296.50 C141.60 298.55 143.02 301.37 144.70 303.80 C146.38 306.23 148.80 309.15 150.50 311.10 C152.20 313.05 153.43 313.80 154.90 315.50 C156.37 317.20 157.97 319.13 159.30 321.30 C160.63 323.47 161.78 326.38 162.90 328.50 C164.02 330.62 164.48 331.58 166.00 334.00 C167.52 336.42 170.00 340.17 172.00 343.00 C174.00 345.83 176.00 348.67 178.00 351.00 C180.00 353.33 182.33 355.57 184.00 357.00 C185.67 358.43 186.83 359.50 188.00 359.60 C189.17 359.70 190.00 358.28 191.00 357.60 C192.00 356.92 193.23 356.77 194.00 355.50 C194.77 354.23 195.18 353.42 195.60 350.00 C196.02 346.58 196.18 340.83 196.50 335.00 C196.82 329.17 197.25 321.50 197.50 315.00 C197.75 308.50 197.75 301.50 198.00 296.00 C198.25 290.50 198.67 285.07 199.00 282.00 C199.33 278.93 199.67 277.93 200.00 277.60 C200.33 277.27 200.67 277.93 201.00 280.00 C201.33 282.07 201.67 288.00 202.00 290.00 C202.33 292.00 202.67 291.83 203.00 292.00 C203.33 292.17 203.60 290.17 204.00 291.00 C204.40 291.83 204.98 293.00 205.40 297.00 C205.82 301.00 206.23 309.83 206.50 315.00 C206.77 320.17 206.75 325.00 207.00 328.00 C207.25 331.00 207.50 331.58 208.00 333.00 C208.50 334.42 209.17 335.17 210.00 336.50 C210.83 337.83 212.00 339.08 213.00 341.00 C214.00 342.92 215.00 345.75 216.00 348.00 C217.00 350.25 218.00 352.87 219.00 354.50 C220.00 356.13 220.50 357.15 222.00 357.80 C223.50 358.45 225.83 358.20 228.00 358.40 C230.17 358.60 233.00 358.57 235.00 359.00 C237.00 359.43 238.17 360.23 240.00 361.00 C241.83 361.77 244.00 363.03 246.00 363.60 C248.00 364.17 249.67 364.17 252.00 364.40 C254.33 364.63 257.00 364.80 260.00 365.00 C263.00 365.20 267.33 365.60 270.00 365.60 C272.67 365.60 273.33 365.20 276.00 365.00 C278.67 364.80 282.67 364.50 286.00 364.40 C289.33 364.30 293.00 364.53 296.00 364.40 C299.00 364.27 301.33 363.60 304.00 363.60 C306.67 363.60 308.33 364.07 312.00 364.40 C315.67 364.73 322.00 365.33 326.00 365.60 C330.00 365.87 332.67 365.87 336.00 366.00 C339.33 366.13 342.67 366.40 346.00 366.40 C349.33 366.40 353.93 366.13 356.00 366.00 C358.07 365.87 357.47 366.00 358.40 365.60 C359.33 365.20 360.67 364.40 361.60 363.60 C362.53 362.80 363.20 361.73 364.00 360.80 C364.80 359.87 365.60 358.80 366.40 358.00 C367.20 357.20 368.00 357.00 368.80 356.00 C369.60 355.00 370.47 353.03 371.20 352.00 C371.93 350.97 372.53 350.00 373.20 349.80 C373.87 349.60 374.47 349.97 375.20 350.80 C375.93 351.63 376.80 353.60 377.60 354.80 C378.40 356.00 379.27 357.27 380.00 358.00 C380.73 358.73 381.33 359.13 382.00 359.20 C382.67 359.27 383.33 358.70 384.00 358.40 C384.67 358.10 385.27 357.40 386.00 357.40 C386.73 357.40 387.60 358.10 388.40 358.40 C389.20 358.70 390.07 359.33 390.80 359.20 C391.53 359.07 392.20 358.40 392.80 357.60 C393.40 356.80 393.93 355.87 394.40 354.40 C394.87 352.93 395.27 350.80 395.60 348.80 C395.93 346.80 396.13 344.87 396.40 342.40 C396.67 339.93 396.77 338.90 397.20 334.00 C397.63 329.10 398.37 318.25 399.00 313.00 C399.63 307.75 400.33 304.83 401.00 302.50 C401.67 300.17 402.33 299.67 403.00 299.00 C403.67 298.33 404.43 298.00 405.00 298.50 C405.57 299.00 405.97 299.42 406.40 302.00 C406.83 304.58 407.17 309.67 407.60 314.00 C408.03 318.33 408.60 325.17 409.00 328.00 C409.40 330.83 409.50 330.83 410.00 331.00 C410.50 331.17 411.33 329.83 412.00 329.00 C412.67 328.17 413.33 328.00 414.00 326.00 C414.67 324.00 415.43 318.75 416.00 317.00 C416.57 315.25 416.97 315.33 417.40 315.50 C417.83 315.67 418.17 316.25 418.60 318.00 C419.03 319.75 419.43 323.33 420.00 326.00 C420.57 328.67 421.17 331.33 422.00 334.00 C422.83 336.67 424.00 339.67 425.00 342.00 C426.00 344.33 427.10 347.08 428.00 348.00 C428.90 348.92 429.57 346.83 430.40 347.50 C431.23 348.17 432.07 350.42 433.00 352.00 C433.93 353.58 435.00 355.33 436.00 357.00 C437.00 358.67 438.27 361.00 439.00 362.00 C439.73 363.00 439.97 369.17 440.40 363.00 C440.83 356.83 441.22 332.93 441.60 325.00 C441.98 317.07 442.37 317.27 442.70 315.40 C443.03 313.53 443.27 313.53 443.60 313.80 C443.93 314.07 444.38 316.87 444.70 317.00 C445.02 317.13 445.23 317.52 445.50 314.60 C445.77 311.68 445.98 305.47 446.30 299.50 C446.62 293.53 447.00 284.37 447.40 278.80 C447.80 273.23 448.35 268.87 448.70 266.10 C449.05 263.33 449.23 262.72 449.50 262.20 C449.77 261.68 450.03 261.55 450.30 263.00 C450.57 264.45 450.83 267.73 451.10 270.90 C451.37 274.07 451.50 276.97 451.90 282.00 C452.30 287.03 452.97 295.00 453.50 301.10 C454.03 307.20 454.68 314.12 455.10 318.60 C455.52 323.08 455.68 325.27 456.00 328.00 C456.32 330.73 456.58 332.00 457.00 335.00 C457.42 338.00 457.92 342.50 458.50 346.00 C459.08 349.50 459.75 353.17 460.50 356.00 C461.25 358.83 462.17 361.33 463.00 363.00 C463.83 364.67 464.67 365.42 465.50 366.00 C466.33 366.58 467.17 367.00 468.00 366.50 C468.83 366.00 469.63 364.50 470.50 363.00 C471.37 361.50 472.45 357.83 473.20 357.50 C473.95 357.17 474.37 359.83 475.00 361.00 C475.63 362.17 476.33 363.58 477.00 364.50 C477.67 365.42 478.42 368.75 479.00 366.50 C479.58 364.25 480.00 356.25 480.50 351.00 C481.00 345.75 481.58 338.08 482.00 335.00 C482.42 331.92 482.58 332.33 483.00 332.50 C483.42 332.67 483.92 334.08 484.50 336.00 C485.08 337.92 485.83 341.00 486.50 344.00 C487.17 347.00 487.92 351.75 488.50 354.00 C489.08 356.25 489.42 357.25 490.00 357.50 C490.58 357.75 491.00 356.72 492.00 355.50 C493.00 354.28 494.70 351.75 496.00 350.20 C497.30 348.65 498.53 347.42 499.80 346.20 C501.07 344.98 502.40 343.68 503.60 342.90 C504.80 342.12 506.03 341.58 507.00 341.50 C507.97 341.42 508.53 341.93 509.40 342.40 C510.27 342.87 511.17 343.82 512.20 344.30 C513.23 344.78 514.63 344.90 515.60 345.30 C516.57 345.70 517.13 345.98 518.00 346.70 C518.87 347.42 519.85 348.72 520.80 349.60 C521.75 350.48 522.75 351.37 523.70 352.00 C524.65 352.63 525.55 353.02 526.50 353.40 C527.45 353.78 528.60 354.07 529.40 354.30 C530.20 354.53 530.75 354.80 531.30 354.80 C531.85 354.80 532.22 353.98 532.70 354.30 C533.18 354.62 533.63 355.50 534.20 356.70 C534.77 357.90 535.47 360.55 536.10 361.50 C536.73 362.45 537.37 362.57 538.00 362.40 C538.63 362.23 539.35 360.82 539.90 360.50 C540.45 360.18 540.82 360.02 541.30 360.50 C541.78 360.98 542.42 362.48 542.80 363.40 C543.18 364.32 543.47 365.57 543.60 366.00" stroke="#6c6c6c"/>
</g>
<path d="M56.5 6.5H543.5" fill="none" stroke="#c8c8c8" stroke-width="1"/>
<path d="M543.8 6V370.5" fill="none" stroke="#d8d8d8" stroke-width="1.4"/>
<path d="M56.5 6V377 M56 370.5H544 M90.32 370.5V373.8 M157.96 370.5V373.8 M225.60 370.5V373.8 M293.24 370.5V373.8 M360.88 370.5V373.8 M428.51 370.5V373.8 M496.15 370.5V373.8" fill="none" stroke="#000" stroke-width="1.3"/>
<path d="M56.50 370.5V377.0 M124.14 370.5V377.0 M191.78 370.5V377.0 M259.42 370.5V377.0 M327.06 370.5V377.0 M394.69 370.5V377.0 M462.33 370.5V377.0 M529.97 370.5V377.0" fill="none" stroke="#000" stroke-width="1.5"/>
<g font-size="14">
<text x="56.50" y="391.7" text-anchor="middle">4000</text>
<text x="124.14" y="391.7" text-anchor="middle">3500</text>
<text x="191.78" y="391.7" text-anchor="middle">3000</text>
<text x="259.42" y="391.7" text-anchor="middle">2500</text>
<text x="327.06" y="391.7" text-anchor="middle">2000</text>
<text x="394.69" y="391.7" text-anchor="middle">1500</text>
<text x="462.33" y="391.7" text-anchor="middle">1000</text>
<text x="529.97" y="391.7" text-anchor="middle">500</text>
</g>
<g font-size="14" letter-spacing="-0.15">
<text x="216.2" y="96.8">PVA/1.60 % of (TiO<tspan font-size="8.6" dy="3.6">2</tspan><tspan dy="-3.6">/Cu)</tspan></text>
<text x="218.8" y="161.7">PVA/0.80 % of (TiO<tspan font-size="8.6" dy="3.6">2</tspan><tspan dy="-3.6">/Cu)</tspan></text>
<text x="220.3" y="240.7">PVA/0.40 % of (TiO<tspan font-size="8.6" dy="3.6">2</tspan><tspan dy="-3.6">/Cu)</tspan></text>
<text x="220.6" y="299">PVA/0.20 % of (TiO<tspan font-size="8.6" dy="3.6">2</tspan><tspan dy="-3.6">/Cu)</tspan></text>
<text x="274.3" y="349.8" font-size="13.6" letter-spacing="0.05">Pure PVA</text>
</g>
<text x="226.2" y="431.5" font-size="15">Wavenumber (cm<tspan font-size="9.7" dx="0.8" dy="-6.3">&#8722;1</tspan><tspan dx="1.2" dy="6.3">)</tspan></text>
<text transform="translate(15.4 212.2) rotate(-90)" text-anchor="middle" font-size="15">Absorbance (a. u.)</text>
</svg>
</body></html>
